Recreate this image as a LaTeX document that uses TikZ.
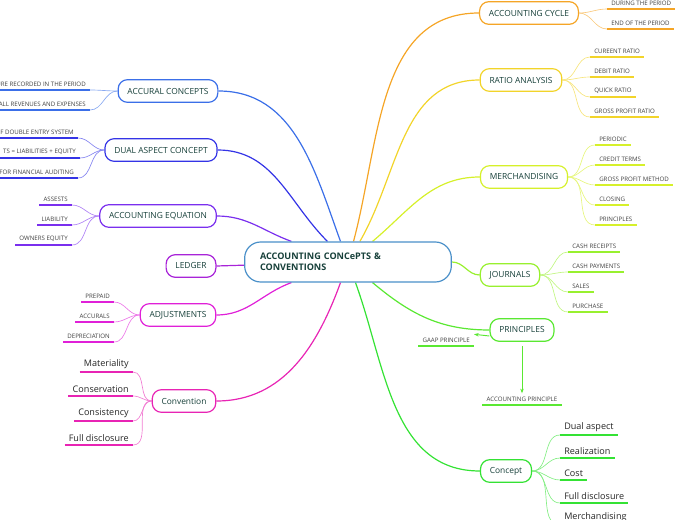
\documentclass[tikz,border=0pt]{standalone}
\usepackage{fontspec}
\setmainfont{Open Sans}
\usetikzlibrary{arrows.meta,backgrounds}
\definecolor{txt}{HTML}{17403A}
\definecolor{hubc}{HTML}{4A90C9}
\definecolor{cacc}{HTML}{3B6FE8}
\definecolor{cdual}{HTML}{3434E6}
\definecolor{ceq}{HTML}{7A2FEE}
\definecolor{cled}{HTML}{A824D8}
\definecolor{cadj}{HTML}{E020D8}
\definecolor{cconv}{HTML}{E824B4}
\definecolor{ccyc}{HTML}{F5A526}
\definecolor{crat}{HTML}{F2D42A}
\definecolor{cmer}{HTML}{D6F02A}
\definecolor{cjou}{HTML}{98F02E}
\definecolor{cpri}{HTML}{5AE832}
\definecolor{ccon}{HTML}{34E234}
\begin{document}
\begin{tikzpicture}[
    x=0.75pt, y=-0.75pt,
    branch/.style={rectangle, draw=#1, line width=0.9pt, rounded corners=7pt, fill=white, minimum height=17pt, inner xsep=7pt, font=\fontsize{6.3}{7}\selectfont, text=txt},
    leaf/.style={font=\fontsize{4.6}{5}\selectfont, text=black!75, inner xsep=3pt, inner ysep=2.5pt,
        append after command={(\tikzlastnode.south west) edge[line width=1.6pt, #1] (\tikzlastnode.south east)}},
    bigleaf/.style={leaf=#1, font=\fontsize{6.8}{8}\selectfont, text=black!85},
    link/.style={line width=0.9pt, #1},
    twig/.style={line width=0.5pt, #1!60}
]
\useasboundingbox (0,0) rectangle (696,520);
% Hub
\node[rectangle, draw=hubc, line width=0.9pt, rounded corners=12pt, fill=white, minimum width=155pt, minimum height=30pt, text width=132pt, align=left, text=txt, font=\bfseries\fontsize{6.8}{8.5}\selectfont] (hub) at (348,262) {ACCOUNTING CONCePTS \&\\CONVENTIONS};

% Left branches
\node[branch=cacc] (accural) at (168,91) {ACCURAL CONCEPTS};
\node[branch=cdual] (dual) at (161,150) {DUAL ASPECT CONCEPT};
\node[branch=ceq] (equation) at (158,216) {ACCOUNTING EQUATION};
\node[branch=cled] (ledger) at (191,266) {LEDGER};
\node[branch=cadj] (adjust) at (178,315) {ADJUSTMENTS};
\node[branch=cconv] (convention) at (184,401) {Convention};

% Right branches
\node[branch=ccyc] (cycle) at (529,13) {ACCOUNTING CYCLE};
\node[branch=crat] (ratio) at (521,80) {RATIO ANALYSIS};
\node[branch=cmer] (merch) at (524,177) {MERCHANDISING};
\node[branch=cjou] (journals) at (510,275) {JOURNALS};
\node[branch=cpri] (principles) at (522,330) {PRINCIPLES};
\node[branch=ccon] (concept) at (506,471) {Concept};

% Leaves, left side
\node[leaf=cacc, anchor=south east] (acc1) at (90,90) {URE RECORDED IN THE PERIOD};
\node[leaf=cacc, anchor=south east] (acc2) at (90,110) {ALL REVENUES AND EXPENSES};
\node[leaf=cdual, anchor=south east] (dual1) at (78,138) {F DOUBLE ENTRY SYSTEM};
\node[leaf=cdual, anchor=south east] (dual2) at (80,158) {TS = LIABILITIES + EQUITY};
\node[leaf=cdual, anchor=south east] (dual3) at (78,178) {FOR FINANCIAL AUDITING};
\node[leaf=ceq, anchor=south east] (eq1) at (72,205) {ASSESTS};
\node[leaf=ceq, anchor=south east] (eq2) at (72,225) {LIABILITY};
\node[leaf=ceq, anchor=south east] (eq3) at (72,245) {OWNERS EQUITY};
\node[leaf=cadj, anchor=south east] (adj1) at (114,302) {PREPAID};
\node[leaf=cadj, anchor=south east] (adj2) at (114,322) {ACCURALS};
\node[leaf=cadj, anchor=south east] (adj3) at (114,342) {DEPRECIATION};
\node[bigleaf=cconv, anchor=south east] (conv1) at (133,372) {Materiality};
\node[bigleaf=cconv, anchor=south east] (conv2) at (133,396) {Conservation};
\node[bigleaf=cconv, anchor=south east] (conv3) at (133,421) {Consistency};
\node[bigleaf=cconv, anchor=south east] (conv4) at (133,445) {Full disclosure};

% Leaves, right side
\node[leaf=ccyc, anchor=south west] (cyc1) at (607,9) {DURING THE PERIOD};
\node[leaf=ccyc, anchor=south west] (cyc2) at (607,29) {END OF THE PERIOD};
\node[leaf=crat, anchor=south west] (rat1) at (590,57) {CUREENT RATIO};
\node[leaf=crat, anchor=south west] (rat2) at (590,77) {DEBIT RATIO};
\node[leaf=crat, anchor=south west] (rat3) at (590,97) {QUICK RATIO};
\node[leaf=crat, anchor=south west] (rat4) at (590,117) {GROSS PROFIT RATIO};
\node[leaf=cmer, anchor=south west] (mer1) at (595,145) {PERIODIC};
\node[leaf=cmer, anchor=south west] (mer2) at (595,165) {CREDIT TERMS};
\node[leaf=cmer, anchor=south west] (mer3) at (595,185) {GROSS PROFIT METHOD};
\node[leaf=cmer, anchor=south west] (mer4) at (595,205) {CLOSING};
\node[leaf=cmer, anchor=south west] (mer5) at (595,225) {PRINCIPLES};
\node[leaf=cjou, anchor=south west] (jou1) at (568,252) {CASH RECEIPTS};
\node[leaf=cjou, anchor=south west] (jou2) at (568,272) {CASH PAYMENTS};
\node[leaf=cjou, anchor=south west] (jou3) at (568,292) {SALES};
\node[leaf=cjou, anchor=south west] (jou4) at (568,312) {PURCHASE};
\node[leaf=cpri, anchor=south east] (gaap) at (474,346) {GAAP PRINCIPLE};
\node[leaf=cpri, anchor=south] (accprin) at (522,405) {ACCOUNTING PRINCIPLE};
\node[bigleaf=ccon, anchor=south west] (con1) at (560,435) {Dual aspect};
\node[bigleaf=ccon, anchor=south west] (con2) at (560,458) {Realization};
\node[bigleaf=ccon, anchor=south west] (con3) at (560,480) {Cost};
\node[bigleaf=ccon, anchor=south west] (con4) at (560,503) {Full disclosure};
\node[bigleaf=ccon, anchor=south west] (con5) at (560,525) {Merchandising};

\begin{scope}[on background layer]
% Hub to branches
\draw[link=cacc] (hub) to[out=110,in=0] (accural.east);
\draw[link=cdual] (hub) to[out=135,in=0] (dual.east);
\draw[link=ceq] (hub) to[out=160,in=0] (equation.east);
\draw[link=cled] (hub) -- (ledger.east);
\draw[link=cadj] (hub) to[out=200,in=0] (adjust.east);
\draw[link=cconv] (hub) to[out=250,in=0] (convention.east);
\draw[link=ccyc] (hub) to[out=75,in=180] (cycle.west);
\draw[link=crat] (hub) to[out=60,in=180] (ratio.west);
\draw[link=cmer] (hub) to[out=40,in=180] (merch.west);
\draw[link=cjou] (hub) to[out=0,in=180] (journals.west);
\draw[link=cpri] (hub) to[out=-40,in=180] (principles.west);
\draw[link=ccon] (hub) to[out=-70,in=180] (concept.west);
% Branches to leaves
\foreach \l in {acc1,acc2} \draw[twig=cacc] (accural.west) to[out=180,in=0] (\l.south east);
\foreach \l in {dual1,dual2,dual3} \draw[twig=cdual] (dual.west) to[out=180,in=0] (\l.south east);
\foreach \l in {eq1,eq2,eq3} \draw[twig=ceq] (equation.west) to[out=180,in=0] (\l.south east);
\foreach \l in {adj1,adj2,adj3} \draw[twig=cadj] (adjust.west) to[out=180,in=0] (\l.south east);
\foreach \l in {conv1,conv2,conv3,conv4} \draw[twig=cconv] (convention.west) to[out=180,in=0] (\l.south east);
\foreach \l in {cyc1,cyc2} \draw[twig=ccyc] (cycle.east) to[out=0,in=180] (\l.south west);
\foreach \l in {rat1,rat2,rat3,rat4} \draw[twig=crat] (ratio.east) to[out=0,in=180] (\l.south west);
\foreach \l in {mer1,mer2,mer3,mer4,mer5} \draw[twig=cmer] (merch.east) to[out=0,in=180] (\l.south west);
\foreach \l in {jou1,jou2,jou3,jou4} \draw[twig=cjou] (journals.east) to[out=0,in=180] (\l.south west);
\foreach \l in {con1,con2,con3,con4,con5} \draw[twig=ccon] (concept.east) to[out=0,in=180] (\l.south west);
\end{scope}
\draw[cpri, line width=0.7pt, -{Stealth[length=3.5pt]}] (principles.west |- 0,336) -- (gaap.north east);
\draw[cpri, line width=0.7pt, -{Stealth[length=3.5pt]}] (principles.south) ++(0,4) -- (accprin.north);
\end{tikzpicture}
\end{document}
